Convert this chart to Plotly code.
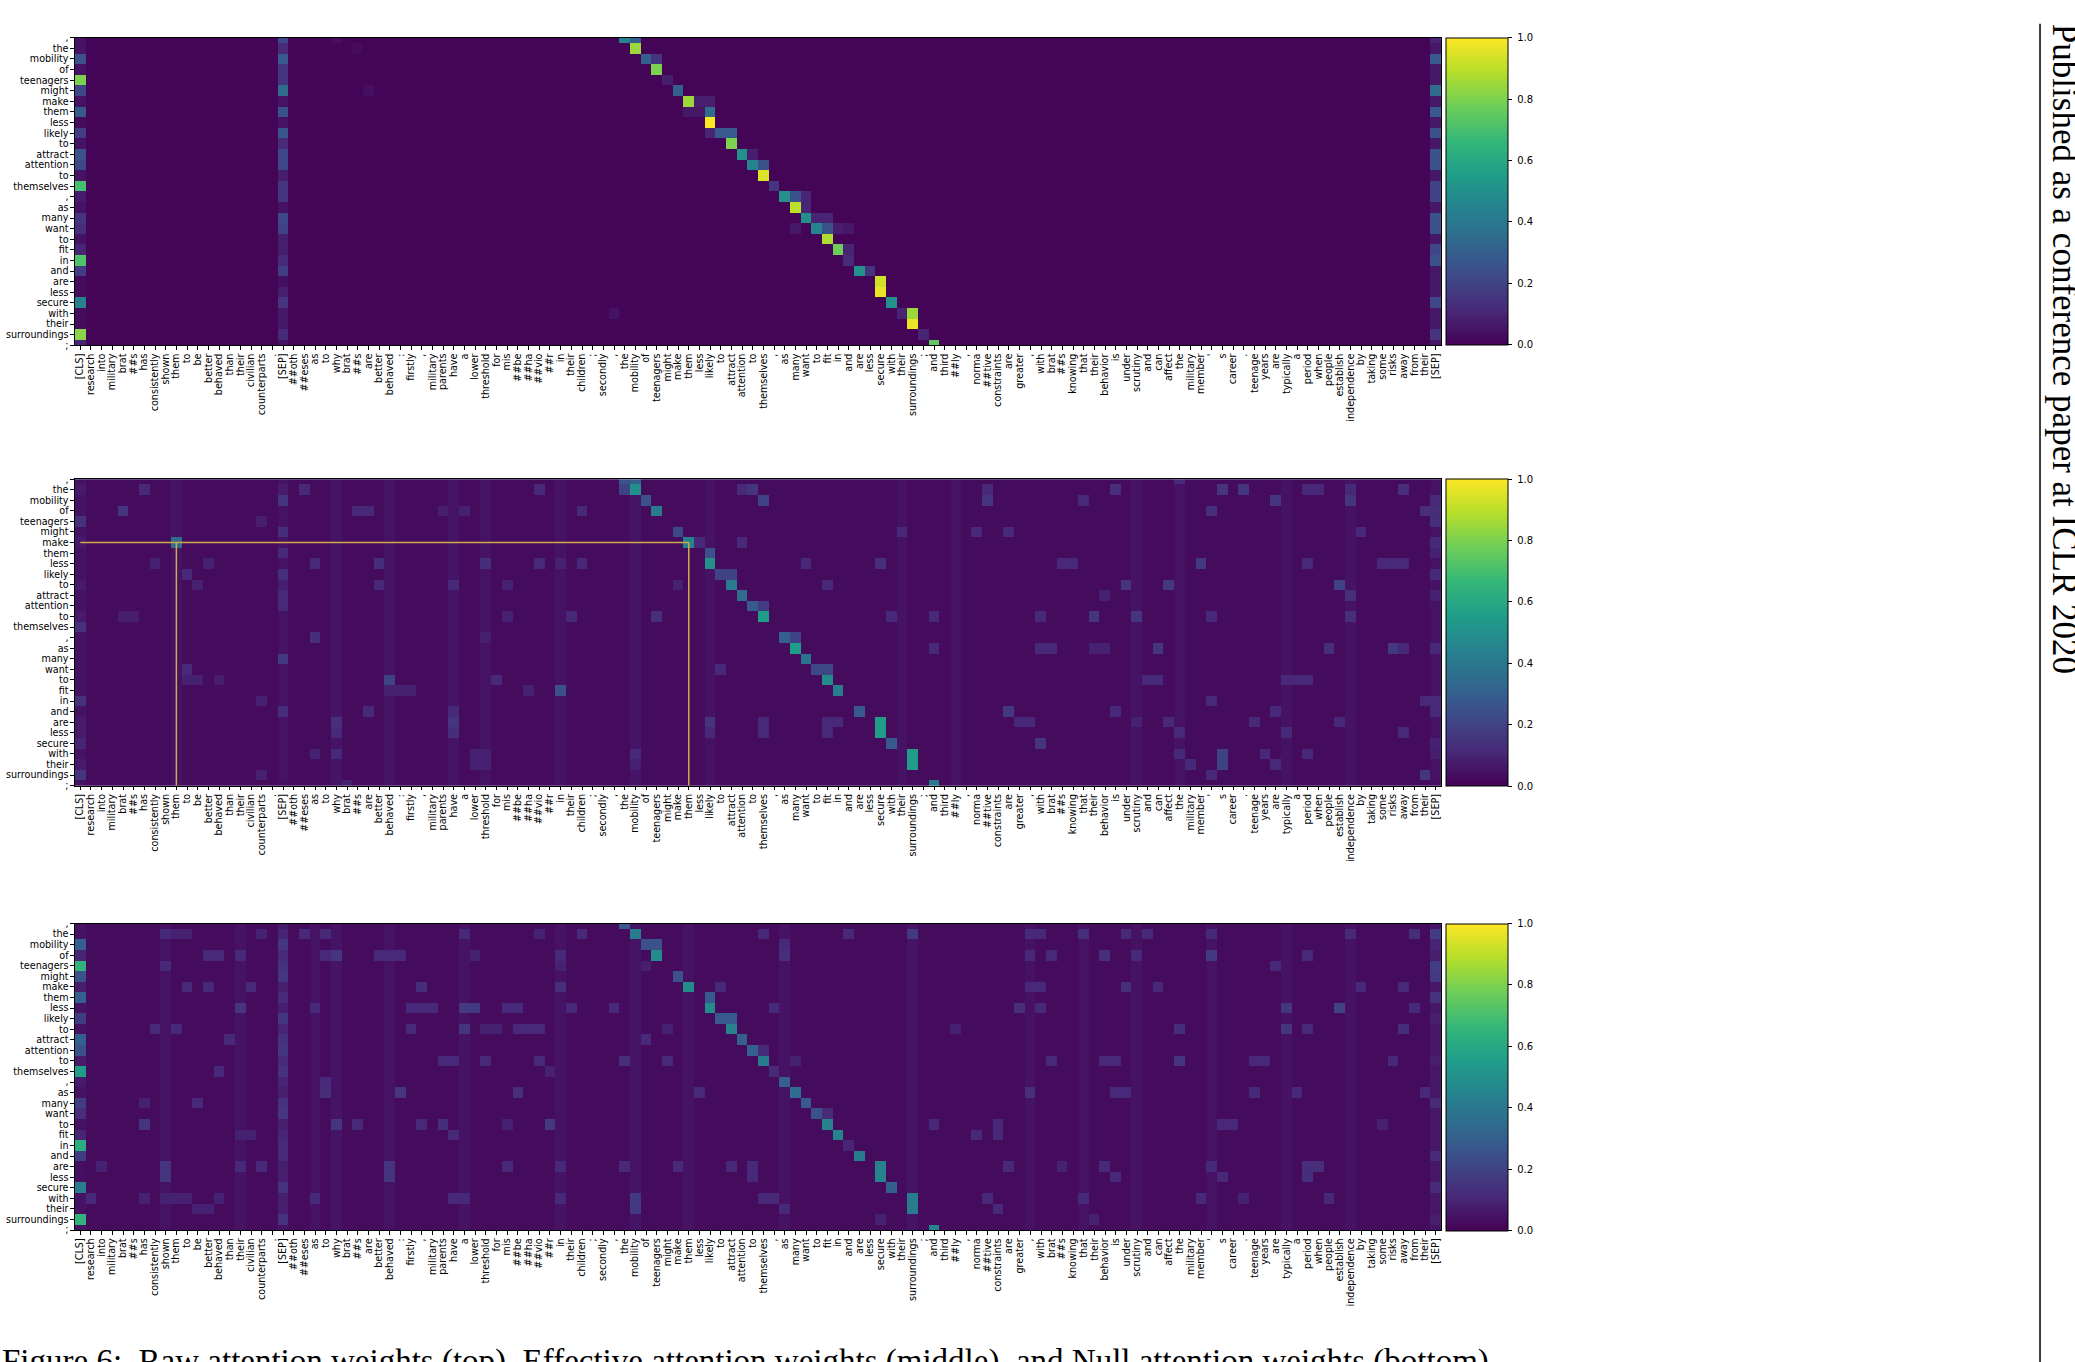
import plotly.graph_objects as go

# ---- data ----------------------------------------------------------------
tokens = [
    "[CLS]", "research", "into", "military", "brat", "##s", "has", "consistently", "shown", "them",
    "to", "be", "better", "behaved", "than", "their", "civilian", "counterparts", ".", "[SEP]",
    "##oth", "##eses", "as", "to", "why", "brat", "##s", "are", "better", "behaved",
    ":", "firstly", ",", "military", "parents", "have", "a", "lower", "threshold", "for",
    "mis", "##be", "##ha", "##vio", "##r", "in", "their", "children", ";", "secondly",
    ",", "the", "mobility", "of", "teenagers", "might", "make", "them", "less", "likely",
    "to", "attract", "attention", "to", "themselves", ",", "as", "many", "want", "to",
    "fit", "in", "and", "are", "less", "secure", "with", "their", "surroundings", ";",
    "and", "third", "##ly", ",", "norma", "##tive", "constraints", "are", "greater", ",",
    "with", "brat", "##s", "knowing", "that", "their", "behavior", "is", "under", "scrutiny",
    "and", "can", "affect", "the", "military", "member", "'", "s", "career", ".",
    "teenage", "years", "are", "typically", "a", "period", "when", "people", "establish", "independence",
    "by", "taking", "some", "risks", "away", "from", "their", "[SEP]",
]
row_tokens = tokens[50:80]

# raw attention (top)
raw_floor = 0.01
raw_cls = [0.05, 0.05, 0.25, 0.05, 0.8, 0.22, 0.05, 0.28, 0.03, 0.18,
           0.05, 0.25, 0.22, 0.05, 0.7, 0.07, 0.05, 0.15, 0.13, 0.05,
           0.1, 0.72, 0.18, 0.03, 0.03, 0.45, 0.03, 0.03, 0.82, 0.1]
raw_sep = [0.22, 0.12, 0.28, 0.15, 0.15, 0.35, 0.05, 0.25, 0.05, 0.27,
           0.12, 0.22, 0.22, 0.08, 0.15, 0.15, 0.05, 0.22, 0.2, 0.08,
           0.08, 0.12, 0.18, 0.04, 0.08, 0.15, 0.06, 0.06, 0.12, 0.05]
raw_end = [0.1, 0.06, 0.28, 0.06, 0.06, 0.35, 0.06, 0.28, 0.06, 0.25,
           0.06, 0.25, 0.25, 0.06, 0.2, 0.2, 0.06, 0.25, 0.25, 0.06,
           0.22, 0.25, 0.06, 0.06, 0.06, 0.22, 0.06, 0.06, 0.15, 0.06]
raw_cells = [
    (0, 51, 0.45), (0, 52, 0.3), (1, 52, 0.85), (2, 53, 0.3), (2, 54, 0.15), (3, 54, 0.8),
    (4, 55, 0.08), (5, 56, 0.3), (6, 57, 0.85), (6, 58, 0.08), (6, 59, 0.08), (7, 57, 0.06),
    (7, 58, 0.06), (7, 59, 0.35), (8, 59, 1.0), (9, 59, 0.1), (9, 60, 0.28), (9, 61, 0.28),
    (10, 61, 0.8), (11, 62, 0.5), (11, 63, 0.08), (12, 63, 0.45), (12, 64, 0.25), (13, 64, 0.95),
    (14, 65, 0.15), (15, 66, 0.5), (15, 67, 0.25), (15, 68, 0.1), (16, 67, 0.9), (16, 68, 0.1),
    (17, 68, 0.5), (17, 69, 0.1), (17, 70, 0.1), (18, 67, 0.06), (18, 69, 0.45), (18, 70, 0.25),
    (18, 71, 0.08), (18, 72, 0.06), (19, 70, 0.88), (20, 71, 0.78), (20, 72, 0.1), (21, 72, 0.12),
    (22, 73, 0.5), (22, 74, 0.15), (23, 75, 0.93), (24, 75, 0.97), (25, 76, 0.5), (26, 77, 0.1),
    (26, 78, 0.85), (27, 78, 0.97), (28, 79, 0.1), (29, 80, 0.75),
    (0, 24, 0.04), (1, 26, 0.03), (5, 27, 0.04), (26, 50, 0.05),
]

# effective attention (middle)
eff_floor = 0.03
eff_cls = [0.05, 0.07, 0.05, 0.05, 0.14, 0.05, 0.07, 0.05, 0.05, 0.05,
           0.07, 0.05, 0.05, 0.07, 0.14, 0.05, 0.05, 0.05, 0.05, 0.05,
           0.05, 0.14, 0.05, 0.07, 0.07, 0.1, 0.05, 0.07, 0.15, 0.05]
eff_sep = [0.05, 0.07, 0.15, 0.05, 0.05, 0.13, 0.05, 0.11, 0.05, 0.13,
           0.08, 0.11, 0.11, 0.05, 0.05, 0.05, 0.05, 0.17, 0.05, 0.05,
           0.05, 0.05, 0.13, 0.05, 0.05, 0.05, 0.05, 0.05, 0.05, 0.04]
eff_end = [0.05, 0.05, 0.11, 0.13, 0.13, 0.05, 0.11, 0.09, 0.05, 0.11,
           0.05, 0.09, 0.05, 0.05, 0.05, 0.05, 0.11, 0.05, 0.05, 0.05,
           0.05, 0.11, 0.11, 0.05, 0.05, 0.09, 0.08, 0.05, 0.05, 0.04]
eff_stripes = {9: 0.05, 24: 0.055, 29: 0.05, 35: 0.055, 38: 0.05, 45: 0.05, 52: 0.055,
               59: 0.05, 77: 0.05, 82: 0.05, 99: 0.05, 103: 0.05, 113: 0.05, 119: 0.05}
eff_cells = [
    (0, 51, 0.25), (0, 52, 0.3), (1, 51, 0.2), (1, 52, 0.5), (2, 53, 0.25), (3, 54, 0.42),
    (5, 56, 0.22), (6, 9, 0.35), (6, 57, 0.45), (6, 58, 0.12), (7, 59, 0.25), (8, 59, 0.5),
    (9, 60, 0.2), (9, 61, 0.2), (10, 61, 0.42), (11, 62, 0.35), (12, 63, 0.28), (12, 64, 0.18),
    (13, 64, 0.55), (15, 66, 0.3), (15, 67, 0.2), (16, 67, 0.55), (17, 68, 0.38), (18, 69, 0.22),
    (18, 70, 0.22), (19, 70, 0.48), (20, 71, 0.42), (22, 73, 0.28), (23, 75, 0.55), (24, 75, 0.55),
    (25, 76, 0.28), (26, 78, 0.55), (27, 78, 0.55), (29, 80, 0.4),
    (1, 6, 0.11), (1, 21, 0.11), (1, 43, 0.11), (1, 62, 0.11), (2, 19, 0.11), (3, 4, 0.15),
    (3, 26, 0.11), (3, 27, 0.11), (3, 47, 0.11), (3, 36, 0.09), (3, 34, 0.08), (4, 17, 0.08),
    (5, 19, 0.11), (6, 62, 0.11), (7, 19, 0.09), (8, 7, 0.09), (8, 12, 0.09), (8, 22, 0.11),
    (8, 28, 0.13), (8, 38, 0.13), (8, 43, 0.11), (8, 47, 0.11), (8, 45, 0.09), (9, 10, 0.11),
    (10, 11, 0.09), (10, 28, 0.11), (10, 35, 0.11), (10, 40, 0.09), (10, 56, 0.09),
    (13, 54, 0.13), (13, 46, 0.11), (13, 4, 0.08), (13, 5, 0.08), (13, 40, 0.09), (15, 22, 0.13),
    (15, 38, 0.08), (18, 10, 0.11), (18, 60, 0.11), (19, 29, 0.2), (19, 39, 0.11), (19, 10, 0.09),
    (19, 11, 0.09), (19, 13, 0.08), (20, 45, 0.25), (20, 29, 0.09), (20, 30, 0.09), (20, 31, 0.09),
    (20, 42, 0.09), (21, 17, 0.09), (22, 27, 0.11), (22, 35, 0.11), (23, 24, 0.13), (23, 35, 0.15),
    (23, 59, 0.15), (24, 24, 0.11), (24, 35, 0.13), (24, 59, 0.11), (26, 22, 0.09), (26, 24, 0.11),
    (26, 37, 0.09), (26, 38, 0.09), (26, 52, 0.11), (27, 37, 0.09), (27, 38, 0.09), (27, 52, 0.09),
    (28, 17, 0.09), (29, 25, 0.09),
    (0, 103, 0.11), (1, 63, 0.15), (1, 97, 0.13), (1, 85, 0.11), (1, 107, 0.15), (1, 109, 0.15),
    (1, 115, 0.11), (1, 116, 0.11), (1, 119, 0.11), (1, 124, 0.13), (2, 64, 0.2), (2, 85, 0.15),
    (2, 94, 0.11), (2, 112, 0.15), (2, 119, 0.15), (3, 106, 0.13), (3, 126, 0.13), (5, 77, 0.11),
    (5, 84, 0.11), (5, 87, 0.11), (5, 120, 0.11), (8, 68, 0.11), (8, 75, 0.13), (8, 92, 0.11),
    (8, 93, 0.11), (8, 105, 0.17), (8, 115, 0.11), (8, 122, 0.11), (8, 123, 0.11), (8, 124, 0.11),
    (10, 70, 0.11), (10, 98, 0.15), (10, 102, 0.17), (10, 118, 0.2), (11, 119, 0.13), (11, 96, 0.09),
    (13, 95, 0.15), (13, 99, 0.15), (13, 106, 0.11), (13, 119, 0.13), (13, 76, 0.11), (13, 80, 0.11),
    (13, 90, 0.11), (16, 80, 0.11), (16, 101, 0.15), (16, 117, 0.13), (16, 123, 0.17), (16, 124, 0.11),
    (16, 90, 0.11), (16, 91, 0.11), (16, 95, 0.09), (16, 96, 0.09), (19, 100, 0.11), (19, 101, 0.11),
    (19, 113, 0.11), (19, 114, 0.11), (19, 115, 0.11), (21, 106, 0.11), (21, 126, 0.11),
    (22, 87, 0.17), (22, 97, 0.11), (22, 112, 0.11), (23, 64, 0.11), (24, 64, 0.11), (23, 70, 0.11),
    (23, 71, 0.11), (24, 70, 0.11), (23, 88, 0.11), (23, 89, 0.11), (23, 99, 0.09), (23, 102, 0.11),
    (24, 103, 0.11), (23, 110, 0.11), (24, 113, 0.11), (23, 118, 0.11), (24, 124, 0.11),
    (25, 90, 0.15), (26, 107, 0.2), (27, 107, 0.2), (26, 111, 0.11), (27, 112, 0.11),
    (26, 103, 0.11), (27, 104, 0.11), (26, 115, 0.11), (28, 126, 0.15), (28, 106, 0.11),
]

# null attention (bottom)
null_floor = 0.03
null_cls = [0.05, 0.05, 0.3, 0.1, 0.65, 0.25, 0.08, 0.3, 0.05, 0.18,
            0.05, 0.3, 0.25, 0.07, 0.55, 0.07, 0.05, 0.18, 0.13, 0.05,
            0.1, 0.62, 0.18, 0.04, 0.04, 0.42, 0.05, 0.05, 0.65, 0.05]
null_sep = [0.07, 0.1, 0.16, 0.12, 0.14, 0.16, 0.08, 0.12, 0.08, 0.16,
            0.1, 0.14, 0.16, 0.12, 0.14, 0.1, 0.08, 0.14, 0.16, 0.08,
            0.1, 0.12, 0.12, 0.08, 0.08, 0.14, 0.08, 0.08, 0.14, 0.05]
null_end = [0.06, 0.18, 0.1, 0.08, 0.18, 0.17, 0.06, 0.14, 0.06, 0.08,
            0.06, 0.06, 0.06, 0.08, 0.06, 0.06, 0.06, 0.12, 0.06, 0.06,
            0.06, 0.06, 0.12, 0.06, 0.06, 0.12, 0.06, 0.06, 0.08, 0.05]
null_stripes = {8: 0.05, 15: 0.05, 22: 0.05, 24: 0.055, 29: 0.05, 36: 0.05, 45: 0.05, 52: 0.055,
                57: 0.05, 66: 0.05, 78: 0.055, 89: 0.05, 94: 0.05, 99: 0.05, 106: 0.05,
                113: 0.05, 119: 0.05}
null_cells = [
    (0, 51, 0.28), (1, 52, 0.42), (2, 53, 0.25), (2, 54, 0.25), (3, 54, 0.48), (4, 53, 0.08),
    (5, 56, 0.25), (6, 57, 0.48), (7, 59, 0.28), (8, 59, 0.48), (9, 60, 0.28), (9, 61, 0.28),
    (10, 61, 0.45), (11, 62, 0.3), (12, 63, 0.3), (12, 64, 0.12), (13, 64, 0.42), (14, 65, 0.12),
    (15, 66, 0.3), (16, 67, 0.35), (17, 68, 0.28), (18, 69, 0.25), (18, 70, 0.12), (19, 70, 0.45),
    (20, 71, 0.45), (21, 72, 0.1), (22, 73, 0.42), (23, 75, 0.45), (24, 75, 0.45), (25, 76, 0.3),
    (26, 78, 0.42), (27, 78, 0.42), (29, 80, 0.45),
    (1, 8, 0.11), (1, 9, 0.09), (1, 10, 0.09), (1, 17, 0.09), (1, 21, 0.11), (1, 23, 0.11),
    (1, 36, 0.11), (1, 43, 0.09), (1, 47, 0.11), (3, 12, 0.11), (3, 13, 0.11), (3, 15, 0.11),
    (3, 23, 0.11), (3, 24, 0.15), (3, 28, 0.11), (3, 29, 0.11), (3, 30, 0.11), (3, 37, 0.09),
    (3, 45, 0.11), (4, 8, 0.11), (4, 45, 0.09), (6, 10, 0.11), (6, 12, 0.11), (6, 16, 0.11),
    (6, 32, 0.13), (6, 45, 0.13), (6, 60, 0.11), (8, 15, 0.15), (8, 22, 0.11), (8, 31, 0.11),
    (8, 32, 0.11), (8, 33, 0.11), (8, 36, 0.17), (8, 37, 0.17), (8, 40, 0.11), (8, 41, 0.11),
    (8, 46, 0.11), (8, 50, 0.11), (10, 7, 0.11), (10, 9, 0.11), (10, 31, 0.11), (10, 36, 0.15),
    (10, 38, 0.09), (10, 39, 0.09), (10, 41, 0.11), (10, 42, 0.11), (10, 43, 0.11), (10, 55, 0.09),
    (11, 14, 0.11), (11, 53, 0.11), (13, 34, 0.11), (13, 35, 0.11), (13, 38, 0.11), (13, 43, 0.11),
    (13, 51, 0.13), (13, 55, 0.11), (14, 13, 0.11), (14, 44, 0.09), (15, 23, 0.11), (16, 23, 0.13),
    (16, 30, 0.15), (16, 41, 0.13), (16, 58, 0.11), (17, 6, 0.09), (17, 11, 0.11), (19, 6, 0.15),
    (19, 24, 0.15), (19, 26, 0.11), (19, 32, 0.11), (19, 34, 0.13), (19, 40, 0.09), (19, 44, 0.17),
    (20, 15, 0.09), (20, 16, 0.09), (20, 35, 0.11), (23, 2, 0.09), (23, 8, 0.15), (24, 8, 0.15),
    (23, 15, 0.11), (23, 17, 0.11), (23, 29, 0.15), (24, 29, 0.15), (23, 40, 0.11), (23, 45, 0.11),
    (23, 51, 0.11), (23, 56, 0.11), (23, 61, 0.11), (26, 1, 0.11), (26, 6, 0.09), (26, 8, 0.09),
    (26, 9, 0.09), (26, 10, 0.09), (27, 11, 0.09), (27, 12, 0.09), (26, 13, 0.09), (26, 22, 0.11),
    (26, 35, 0.11), (26, 36, 0.11), (26, 45, 0.11), (26, 52, 0.17), (27, 52, 0.17),
    (1, 64, 0.11), (1, 72, 0.11), (1, 78, 0.17), (1, 89, 0.11), (1, 90, 0.11), (1, 94, 0.13),
    (1, 98, 0.11), (1, 100, 0.11), (1, 106, 0.11), (1, 119, 0.11), (1, 125, 0.13), (2, 66, 0.11),
    (3, 66, 0.13), (3, 89, 0.11), (3, 91, 0.11), (3, 96, 0.13), (3, 99, 0.11), (3, 106, 0.17),
    (3, 115, 0.11), (4, 112, 0.11), (6, 89, 0.11), (6, 90, 0.11), (6, 98, 0.13), (6, 101, 0.11),
    (6, 120, 0.11), (6, 124, 0.11), (8, 65, 0.11), (8, 88, 0.13), (8, 90, 0.11), (8, 113, 0.15),
    (8, 118, 0.2), (8, 125, 0.11), (10, 82, 0.09), (10, 103, 0.13), (10, 113, 0.15), (10, 115, 0.11),
    (10, 124, 0.13), (13, 67, 0.09), (13, 91, 0.11), (13, 96, 0.11), (13, 97, 0.11), (13, 103, 0.15),
    (13, 110, 0.11), (13, 111, 0.11), (13, 123, 0.11), (16, 89, 0.13), (16, 97, 0.11), (16, 98, 0.11),
    (16, 110, 0.11), (16, 114, 0.11), (16, 126, 0.11), (19, 80, 0.11), (19, 86, 0.11), (19, 107, 0.11),
    (19, 108, 0.11), (19, 122, 0.09), (20, 84, 0.11), (20, 86, 0.11), (23, 63, 0.11), (24, 63, 0.11),
    (23, 87, 0.11), (23, 92, 0.09), (23, 96, 0.11), (24, 97, 0.11), (23, 106, 0.11), (24, 107, 0.11),
    (23, 115, 0.13), (23, 116, 0.13), (24, 115, 0.13), (26, 64, 0.11), (26, 65, 0.11), (27, 66, 0.11),
    (26, 85, 0.11), (27, 86, 0.11), (26, 94, 0.11), (26, 105, 0.11), (26, 109, 0.09), (26, 117, 0.11),
    (28, 75, 0.09), (28, 95, 0.09),
]

cbar_ticks = [0.0, 0.2, 0.4, 0.6, 0.8, 1.0]
highlight_row = 6
highlight_cols = [9, 57]

caption = ("Figure 6:  Raw attention weights (top), Effective attention weights (middle), "
           "and Null attention weights (bottom).")
header = "Published as a conference paper at ICLR 2020"


def build_matrix(floor, cls_col, sep_col, end_col, cells, stripes=None):
    stripes = stripes or {}
    z = []
    for r in range(len(row_tokens)):
        row = []
        for c in range(len(tokens)):
            row.append(max(floor, stripes.get(c, floor)))
        row[0] = cls_col[r]
        row[19] = max(row[19], sep_col[r])
        row[127] = end_col[r]
        z.append(row)
    for r, c, v in cells:
        z[r][c] = max(z[r][c], v)
    return z


W, H = 2075, 1362


def fx(px):
    return px / W


def fy(px):
    return 1 - px / H


panels = [
    (build_matrix(raw_floor, raw_cls, raw_sep, raw_end, raw_cells), 32, 342),
    (build_matrix(eff_floor, eff_cls, eff_sep, eff_end, eff_cells, eff_stripes), 477, 786),
    (build_matrix(null_floor, null_cls, null_sep, null_end, null_cells, null_stripes), 925, 1234),
]

fig = go.Figure()
tick_font = dict(family="DejaVu Sans", size=9.6, color="black")
cbar_font = dict(family="DejaVu Sans", size=10, color="black")

for i, (z, top, bottom) in enumerate(panels):
    n = "" if i == 0 else str(i + 1)
    fig.add_trace(go.Heatmap(
        z=z,
        x=list(range(len(tokens))),
        y=list(range(len(row_tokens))),
        colorscale="Viridis",
        zmin=0, zmax=1,
        xaxis="x" + n, yaxis="y" + n,
        colorbar=dict(
            x=fx(1446), xanchor="left", xpad=0,
            y=fy(top), yanchor="top", ypad=0,
            len=(bottom - top) / H, lenmode="fraction",
            thickness=62, thicknessmode="pixels",
            outlinewidth=1, outlinecolor="black",
            ticks="outside", ticklen=4, tickcolor="black",
            tickvals=cbar_ticks, ticktext=[" %.1f" % t for t in cbar_ticks],
            tickfont=cbar_font,
        ),
        hoverinfo="skip",
    ))
    fig.layout["xaxis" + n] = dict(
        domain=[fx(74), fx(1441)], anchor="y" + n,
        range=[-0.5, len(tokens) - 0.5],
        tickmode="array", tickvals=list(range(len(tokens))), ticktext=tokens,
        tickangle=-90, tickfont=tick_font,
        ticks="outside", ticklen=3.5, tickcolor="black",
        showline=True, linecolor="black", linewidth=1, mirror=True,
        showgrid=False, zeroline=False,
    )
    fig.layout["yaxis" + n] = dict(
        domain=[fy(bottom), fy(top)], anchor="x" + n,
        range=[len(row_tokens) - 1, 0],
        tickmode="array", tickvals=list(range(len(row_tokens))), ticktext=row_tokens,
        tickfont=tick_font,
        ticks="outside", ticklen=3.5, tickcolor="black",
        showline=True, linecolor="black", linewidth=1, mirror=True,
        showgrid=False, zeroline=False,
    )

# highlight lines on the middle panel
line_col = "#cfa94a"
fig.add_shape(type="line", xref="x2", yref="y2", x0=0, x1=highlight_cols[1],
              y0=highlight_row, y1=highlight_row, line=dict(color=line_col, width=1.5))
for c in highlight_cols:
    fig.add_shape(type="line", xref="x2", yref="y2", x0=c, x1=c,
                  y0=highlight_row, y1=len(row_tokens) - 1, line=dict(color=line_col, width=1.5))

# page header rule and text on the right
fig.add_shape(type="line", xref="paper", yref="paper", x0=fx(2040), x1=fx(2040),
              y0=fy(18), y1=-0.01, line=dict(color="black", width=1.5))
fig.add_annotation(text=header, xref="paper", yref="paper", x=fx(2064), y=fy(16),
                   xanchor="center", yanchor="top", textangle=90, showarrow=False,
                   font=dict(family="Liberation Serif", size=35, color="black"))

# figure caption (cut off at the page edge, as in the source)
fig.add_annotation(text=caption, xref="paper", yref="paper", x=fx(-1), y=fy(1346),
                   xanchor="left", yanchor="top", showarrow=False,
                   font=dict(family="Liberation Serif", size=33, color="black"))

fig.update_layout(
    width=W, height=H,
    margin=dict(l=0, r=0, t=0, b=0),
    paper_bgcolor="white", plot_bgcolor="white",
    showlegend=False,
)

fig.write_html("out.html", config={"displayModeBar": False},
               post_script="document.body.style.margin='0';")
